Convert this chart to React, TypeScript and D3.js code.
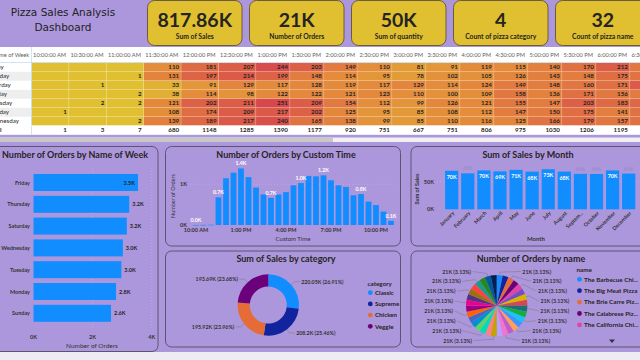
import React from "react";
import * as d3 from "d3";

const W = 640;
const H = 360;
const FONT = "'Segoe UI', Lato, 'Noto Sans', sans-serif";
const INK = "#252423";
const BG = "#ad97dc";
const FRAME = "#5c5470";
const BLUE = "#118dff";

// kpi cards
const kpiValues = ["817.86K", "21K", "50K", "4", "32"];
const kpiLabels = ["Sum of Sales", "Number of Orders", "Sum of quantity", "Count of pizza category", "Count of pizza name"];

// matrix: orders by weekday x half hour
const weekNames = ["Friday", "Monday", "Saturday", "Sunday", "Thursday", "Tuesday", "Wednesday"];
const slotLabels = [
  "10:00:00 AM", "10:30:00 AM", "11:00:00 AM", "11:30:00 AM", "12:00:00 PM", "12:30:00 PM",
  "1:00:00 PM", "1:30:00 PM", "2:00:00 PM", "2:30:00 PM", "3:00:00 PM", "3:30:00 PM",
  "4:00:00 PM", "4:30:00 PM", "5:00:00 PM", "5:30:00 PM", "6:00:00 PM", "6:30:00 PM",
];
const fridayOrders = [null, null, null, 110, 181, 207, 244, 203, 149, 110, 81, 91, 119, 115, 140, 170, 212, 160];
const mondayOrders = [null, null, 1, 131, 197, 214, 199, 148, 114, 95, 78, 102, 105, 126, 143, 148, 175, 165];
const saturdayOrders = [null, 1, null, 33, 91, 129, 117, 128, 119, 117, 129, 114, 124, 149, 148, 160, 171, 215];
const sundayOrders = [null, null, 2, 38, 114, 98, 122, 122, 121, 123, 110, 100, 109, 158, 136, 171, 156, 150];
const thursdayOrders = [null, 2, 2, 121, 202, 211, 251, 209, 154, 112, 99, 126, 121, 155, 147, 203, 183, 190];
const tuesdayOrders = [1, null, null, 108, 174, 209, 217, 202, 125, 95, 85, 108, 112, 147, 150, 175, 141, 170];
const wednesdayOrders = [null, null, 2, 139, 189, 217, 240, 165, 138, 99, 85, 110, 116, 125, 166, 179, 157, 170];

// orders by name of week
const dayNames = ["Friday", "Thursday", "Saturday", "Wednesday", "Tuesday", "Monday", "Sunday"];
const dayOrders = [3538, 3239, 3158, 3024, 2973, 2794, 2624];

// orders by custom time (every 30 min from 10:00 AM)
const timeOrders = [1, 3, 7, 680, 1148, 1285, 1390, 1177, 920, 751, 667, 751, 806, 975, 1030, 1206, 1195, 1220, 1100, 975, 935, 730, 760, 575, 490, 330, 105];
const timeLabelIdx = [0, 3, 6, 10, 14, 17, 22, 26];

// sales by month
const months = ["January", "February", "March", "April", "May", "June", "July", "August", "September", "October", "November", "December"];
const monthSales = [69793, 65160, 70397, 68737, 71403, 68230, 72558, 68278, 64180, 64028, 70395, 64701];

// sales by category
const categories = ["Classic", "Supreme", "Chicken", "Veggie"];
const categorySales = [220053.1, 208197, 195919.5, 193690.45];
const categoryColors = ["#118dff", "#12239e", "#e66c37", "#6b007b"];

// orders by pizza name
const pizzaNames = [
  "The Barbecue Chicken Pizza", "The Big Meat Pizza", "The Brie Carre Pizza", "The Calabrese Pizza",
  "The California Chicken Pizza", "The Chicken Alfredo Pizza", "The Chicken Pesto Pizza", "The Classic Deluxe Pizza",
  "The Five Cheese Pizza", "The Four Cheese Pizza", "The Greek Pizza", "The Green Garden Pizza",
  "The Hawaiian Pizza", "The Italian Capocollo Pizza", "The Italian Supreme Pizza", "The Italian Vegetables Pizza",
  "The Mediterranean Pizza", "The Mexicana Pizza", "The Napolitana Pizza", "The Pepper Salami Pizza",
  "The Pepperoni Pizza", "The Pepperoni, Mushroom, and Peppers Pizza", "The Prosciutto and Arugula Pizza", "The Sicilian Pizza",
  "The Soppressata Pizza", "The Southwest Chicken Pizza", "The Spicy Italian Pizza", "The Spinach and Feta Pizza",
  "The Spinach Pesto Pizza", "The Spinach Supreme Pizza", "The Thai Chicken Pizza", "The Vegetables + Vegetables Pizza",
];
const pizzaOrders = pizzaNames.map(() => 21350);
const pbiColors = [
  "#118dff", "#12239e", "#e66c37", "#6b007b", "#e044a7", "#744ec2", "#d9b300", "#d64550",
  "#197278", "#1aab40", "#15c6f4", "#4092ff", "#ffa058", "#be5dc9", "#f472d0", "#b5a1ff",
  "#c4a200", "#ff8080", "#00dbbc", "#5bd667", "#0091d5", "#4668c5", "#ff6300", "#99008a",
  "#ec008c", "#533285", "#99700a", "#ff4141", "#1f9a85", "#25891c", "#0057a2", "#002050",
];

function fitText(text: string, font: string, maxW: number) {
  const ctx = document.createElement("canvas").getContext("2d");
  if (!ctx) return text;
  ctx.font = font;
  if (ctx.measureText(text).width <= maxW) return text;
  let t = text;
  while (t.length > 1 && ctx.measureText(t + "...").width > maxW) t = t.slice(0, -1);
  return t + "...";
}

const kfmt = (v: number) => (v / 1000).toFixed(1) + "K";

function Panel({ x, y, w, h, title, tx, anchor = "middle" }: any) {
  return (
    <g>
      <rect x={x} y={y} width={w} height={h} rx={6} fill="none" stroke={FRAME} strokeWidth={1} />
      <text x={tx} y={y + 11} textAnchor={anchor} fontSize={9} fontWeight={700} fill={INK}>{title}</text>
    </g>
  );
}

function Matrix() {
  const rows = [fridayOrders, mondayOrders, saturdayOrders, sundayOrders, thursdayOrders, tuesdayOrders, wednesdayOrders];
  const totals = slotLabels.map((_, j) => d3.sum(rows, r => r[j] ?? 0));
  const widths = slotLabels.map(l => (l.length > 10 ? 37.4 : 34));
  const xs = [31.5, ...d3.cumsum(widths).map(v => 31.5 + v)];
  const top = 47;
  const headH = 15.8;
  const rowH = 9;
  const y0 = top + headH;
  const heat = d3.scaleLinear<string>().domain([0, 125, 255]).range(["#e0c030", "#e4873c", "#d7464d"]).clamp(true);
  const totalY = y0 + rows.length * rowH;
  return (
    <g fontSize={6.2}>
      <rect x={0} y={top} width={W} height={totalY + rowH - top} fill="#fff" />
      {weekNames.map((n, i) => (
        <rect key={n} x={0} y={y0 + i * rowH} width={31.5} height={rowH} fill={i % 2 ? "#eeeeee" : "#fff"} />
      ))}
      <text x={-8} y={top + 10} fontSize={5.7} fill="#605e5c">Name of Week</text>
      {slotLabels.map((l, j) => (
        <text key={l} x={xs[j] + 1.6} y={top + 10} fontSize={5.7} fill="#605e5c">{l}</text>
      ))}
      {rows.map((r, i) =>
        r.map((v, j) => (
          <g key={i + "-" + j}>
            <rect x={xs[j]} y={y0 + i * rowH} width={widths[j]} height={rowH} fill={heat(v ?? 0)} stroke="rgba(255,255,255,0.3)" strokeWidth={0.5} />
            {v != null && (
              <text x={xs[j + 1] - 2} y={y0 + i * rowH + 6.6} textAnchor="end" fontWeight={700} fill={INK}>{v}</text>
            )}
          </g>
        ))
      )}
      {weekNames.map((n, i) => (
        <text key={n} x={-13} y={y0 + i * rowH + 6.6} fill={INK}>{n}</text>
      ))}
      <text x={-12} y={totalY + 6.6} fontWeight={700} fill={INK}>Total</text>
      {totals.map((t, j) => (
        <text key={j} x={xs[j + 1] - 2} y={totalY + 6.6} textAnchor="end" fontWeight={700} fill={INK}>{t}</text>
      ))}
      <line x1={0} x2={W} y1={y0 - 0.3} y2={y0 - 0.3} stroke="#c5dcf2" strokeWidth={0.8} />
      <line x1={31.5} x2={31.5} y1={top} y2={totalY + rowH} stroke="#c5dcf2" strokeWidth={0.8} />
      <line x1={0} x2={W} y1={totalY} y2={totalY} stroke="#fff" strokeWidth={0.8} />
      <rect x={0} y={137.5} width={W} height={4.5} fill="#f1f1f1" />
      <rect x={0} y={137.5} width={333} height={4.5} fill="#c8c8c8" />
    </g>
  );
}

function WeekBars() {
  const x = d3.scaleLinear().domain([0, 4000]).range([33.5, 151.7]);
  const y = d3.scaleBand().domain(dayNames).range([171.6, 324.2]).paddingInner(0.22).paddingOuter(0.11);
  return (
    <g>
      <Panel x={-6} y={146.5} w={164} h={205} title="Number of Orders by Name of Week" tx={2} anchor="start" />
      {[2000, 4000].map(t => (
        <line key={t} x1={x(t)} x2={x(t)} y1={168} y2={328} stroke="#c4b6e6" strokeDasharray="1,2" strokeWidth={0.6} />
      ))}
      {dayNames.map((d, i) => {
        const v = dayOrders[i];
        const inside = x(v) > 135;
        return (
          <g key={d}>
            <rect x={x(0)} y={y(d)} width={x(v) - x(0)} height={y.bandwidth()} fill={BLUE} />
            <text x={30} y={y(d)! + y.bandwidth() / 2 + 2} textAnchor="end" fontSize={5.5} fontWeight={700} fill="#333">{d}</text>
            <text x={inside ? x(v) - 3 : x(v) + 3} y={y(d)! + y.bandwidth() / 2 + 2} textAnchor={inside ? "end" : "start"} fontSize={5.5} fontWeight={700} fill={INK}>{kfmt(v)}</text>
          </g>
        );
      })}
      {[0, 2000, 4000].map(t => (
        <text key={t} x={x(t)} y={338.5} textAnchor="middle" fontSize={5.5} fontWeight={700} fill="#333">{t / 1000 + "K"}</text>
      ))}
      <text x={92} y={347.5} textAnchor="middle" fontSize={6.5} fill="#333">Number of Orders</text>
    </g>
  );
}

function TimeBars() {
  const minutes = timeOrders.map((_, i) => 600 + i * 30);
  const x = d3.scaleLinear().domain([600, 1380]).range([196, 391]);
  const y = d3.scaleLinear().domain([0, 1000]).range([225, 184.3]);
  const bw = 5.8;
  const ticks = [600, 780, 960, 1140, 1320];
  const tickText = (m: number) => {
    const h = Math.floor(m / 60);
    return `${h > 12 ? h - 12 : h}:00 ${h >= 12 ? "PM" : "AM"}`;
  };
  return (
    <g>
      <Panel x={165.5} y={146.5} w={235} h={99.5} title="Number of Orders by Custom Time" tx={286} />
      <line x1={190} x2={396} y1={y(1000)} y2={y(1000)} stroke="#c4b6e6" strokeDasharray="1,2" strokeWidth={0.6} />
      {timeOrders.map((v, i) => (
        <rect key={i} x={x(minutes[i]) - bw / 2} y={y(v)} width={bw} height={Math.max(0.6, y(0) - y(v))} fill={BLUE} />
      ))}
      {timeLabelIdx.map(i => (
        <text key={i} x={x(minutes[i])} y={y(timeOrders[i]) - 3} textAnchor="middle" fontSize={5.3} fontWeight={700} fill="#fff">{kfmt(timeOrders[i])}</text>
      ))}
      {[0, 1000].map(t => (
        <text key={t} x={187} y={y(t) + 2} textAnchor="end" fontSize={5.5} fontWeight={700} fill="#333">{t / 1000 + "K"}</text>
      ))}
      {ticks.map(t => (
        <text key={t} x={x(t)} y={232} textAnchor="middle" fontSize={5.5} fontWeight={700} fill="#333">{tickText(t)}</text>
      ))}
      <text x={293} y={241} textAnchor="middle" fontSize={6} fill="#333">Custom Time</text>
      <text transform="translate(174.5,196) rotate(-90)" textAnchor="middle" fontSize={5.5} fill="#333">Number of Orders</text>
    </g>
  );
}

function MonthBars() {
  const x = d3.scaleBand().domain(months).range([443.65, 636.75]).paddingInner(0.18).paddingOuter(0.09);
  const y = d3.scaleLinear().domain([0, 50000]).range([209.3, 181.7]);
  return (
    <g>
      <Panel x={411} y={146.5} w={240} h={99.5} title="Sum of Sales by Month" tx={528} />
      <line x1={437} x2={640} y1={y(50000)} y2={y(50000)} stroke="#c4b6e6" strokeDasharray="1,2" strokeWidth={0.6} />
      {months.map((m, i) => {
        const v = monthSales[i];
        const cx = x(m)! + x.bandwidth() / 2;
        const outside = v < 66000;
        const label = m.length > 8 ? m.slice(0, 6) + "..." : m;
        return (
          <g key={m}>
            <rect x={x(m)} y={y(v)} width={x.bandwidth()} height={y(0) - y(v)} fill={BLUE} />
            <text x={cx} y={outside ? y(v) - 3 : y(v) + 8} textAnchor="middle" fontSize={5.3} fontWeight={700} fill={outside ? "#9a8bc4" : "#fff"}>
              {Math.round(v / 1000) + "K"}
            </text>
            <text transform={`translate(${cx + 3},${213.5}) rotate(-45)`} textAnchor="end" fontSize={5.3} fontWeight={700} fill="#333">{label}</text>
          </g>
        );
      })}
      {[0, 50000].map(t => (
        <text key={t} x={434} y={y(t) + 2} textAnchor="end" fontSize={5.5} fontWeight={700} fill="#333">{t / 1000 + "K"}</text>
      ))}
      <text x={536} y={241} textAnchor="middle" fontSize={6} fontWeight={700} fill="#333">Month</text>
      <text transform="translate(418.5,189) rotate(-90)" textAnchor="middle" fontSize={5.5} fontWeight={700} fill="#333">Sum of Sales</text>
    </g>
  );
}

function CategoryDonut() {
  const cx = 268.3;
  const cy = 305;
  const r = 30.7;
  const total = d3.sum(categorySales);
  const slices = d3.pie<number>().sort(null).value(d => d)(categorySales);
  const arc = d3.arc<d3.PieArcDatum<number>>().innerRadius(18.5).outerRadius(r);
  return (
    <g>
      <Panel x={165.5} y={251} w={235} h={96} title="Sum of Sales by category" tx={286} />
      <g transform={`translate(${cx},${cy})`}>
        {slices.map((s, i) => (
          <path key={i} d={arc(s)!} fill={categoryColors[i]} />
        ))}
      </g>
      {slices.map((s, i) => {
        const a = (s.startAngle + s.endAngle) / 2;
        const sx = Math.sin(a);
        const sy = -Math.cos(a);
        const p0 = [cx + r * sx, cy + r * sy];
        const p1 = [cx + (r + 4.5) * sx, cy + (r + 4.5) * sy];
        const right = sx >= 0;
        const p2 = [p1[0] + (right ? 5 : -5), p1[1]];
        const pct = ((s.data / total) * 100).toFixed(2);
        const val = +(s.data / 1000).toFixed(2);
        return (
          <g key={i}>
            <polyline points={[p0, p1, p2].map(p => p.join(",")).join(" ")} fill="none" stroke="#777" strokeWidth={0.5} />
            <text x={p2[0] + (right ? 1.5 : -1.5)} y={p2[1] + 2} textAnchor={right ? "start" : "end"} fontSize={5.3} fontWeight={700} fill="#333">
              {`${val}K (${pct}%)`}
            </text>
          </g>
        );
      })}
      <text x={367.5} y={285.5} fontSize={6.3} fontWeight={700} fill={INK}>category</text>
      {categories.map((c, i) => (
        <g key={c}>
          <circle cx={370.3} cy={292.7 + i * 11.2} r={2.4} fill={categoryColors[i]} />
          <text x={375} y={294.9 + i * 11.2} fontSize={6.2} fontWeight={700} fill={INK}>{c}</text>
        </g>
      ))}
    </g>
  );
}

function NamePie() {
  const cx = 496.7;
  const cy = 305.7;
  const r = 30.7;
  const total = d3.sum(pizzaOrders);
  const slices = d3.pie<number>().sort(null).value(d => d)(pizzaOrders);
  const arc = d3.arc<d3.PieArcDatum<number>>().innerRadius(0).outerRadius(r);
  const labelled = slices.filter((_, i) => i % 2 === 0).map(s => {
    const a = (s.startAngle + s.endAngle) / 2;
    return { s, a, right: Math.sin(a) >= 0 };
  });
  const placed: any[] = [];
  [true, false].forEach(side => {
    const group = labelled.filter(l => l.right === side).sort((p, q) => -Math.cos(p.a) - -Math.cos(q.a));
    const ys = d3.range(group.length).map(k => 271.5 + (k * (340.5 - 271.5)) / (group.length - 1));
    group.forEach((l, k) => {
      const ly = ys[k];
      const dy = ly - cy;
      const R = 41;
      const dx = Math.sqrt(Math.max(0, R * R - dy * dy)) + 3;
      placed.push({ ...l, ly, lx: side ? cx + dx : cx - dx });
    });
  });
  const legendFont = `700 6.3px ${FONT}`;
  return (
    <g>
      <Panel x={411} y={251} w={240} h={96} title="Number of Orders by name" tx={531} />
      <g transform={`translate(${cx},${cy})`}>
        {slices.map((s, i) => (
          <path key={i} d={arc(s)!} fill={pbiColors[i % pbiColors.length]} />
        ))}
      </g>
      {placed.map((p, i) => {
        const p0 = [cx + r * Math.sin(p.a), cy - r * Math.cos(p.a)];
        const p1 = [cx + (r + 3) * Math.sin(p.a), cy - (r + 3) * Math.cos(p.a)];
        const end = [p.lx + (p.right ? -1.5 : 1.5), p.ly];
        const pct = ((p.s.data / total) * 100).toFixed(2);
        return (
          <g key={i}>
            <polyline points={[p0, p1, end].map(q => q.join(",")).join(" ")} fill="none" stroke="#777" strokeWidth={0.5} />
            <text x={p.lx} y={p.ly + 2} textAnchor={p.right ? "start" : "end"} fontSize={5.3} fontWeight={700} fill="#333">
              {`${Math.round(p.s.data / 1000)}K (${pct}%)`}
            </text>
          </g>
        );
      })}
      <text x={576.5} y={272} fontSize={6.3} fontWeight={700} fill={INK}>name</text>
      {pizzaNames.slice(0, 5).map((n, i) => (
        <g key={n}>
          <circle cx={579.5} cy={279.3 + i * 11.4} r={2.4} fill={pbiColors[i]} />
          <text x={584} y={281.6 + i * 11.4} fontSize={6.3} fontWeight={700} fill={INK}>{fitText(n, legendFont, 55)}</text>
        </g>
      ))}
      <path d="M609,339.5 L615,339.5 L612,343 Z" fill="#333" />
    </g>
  );
}

export default function App() {
  return (
    <svg width={W} height={H} style={{ position: "fixed", left: 0, top: 0 }} fontFamily={FONT}>
      <rect width={W} height={H} fill={BG} />
      <Matrix />
      <text x={63} y={16} textAnchor="middle" fontSize={10.5} fontFamily="'Comic Sans MS', 'DejaVu Sans', sans-serif" fill="#222">Pizza Sales Analysis</text>
      <text x={63} y={31} textAnchor="middle" fontSize={10.5} fontFamily="'Comic Sans MS', 'DejaVu Sans', sans-serif" fill="#222">Dashboard</text>
      {kpiValues.map((v, i) => {
        const x = 147.5 + i * 102;
        return (
          <g key={i}>
            <rect x={x} y={0.5} width={94.5} height={45} rx={7} fill="#e0c030" stroke="#6b5c3a" strokeWidth={1} />
            <text x={x + 47.25} y={26.5} textAnchor="middle" fontSize={19.5} fontWeight={700} fill={INK}>{v}</text>
            <text x={x + 47.25} y={38.7} textAnchor="middle" fontSize={6.8} fontWeight={700} fill={INK}>{kpiLabels[i]}</text>
          </g>
        );
      })}
      <WeekBars />
      <TimeBars />
      <MonthBars />
      <CategoryDonut />
      <NamePie />
      <rect x={0} y={352} width={W} height={8} fill="#eeecf3" />
    </svg>
  );
}
